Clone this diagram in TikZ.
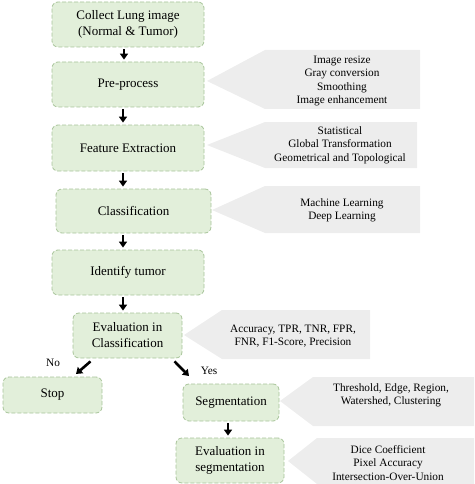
\documentclass[tikz,border=0pt]{standalone}
\usepackage{fontspec}
\setmainfont{Liberation Serif}
\usetikzlibrary{arrows.meta}
\definecolor{boxfill}{HTML}{E2EFDA}
\definecolor{boxdraw}{HTML}{A8C49A}
\definecolor{grayfill}{HTML}{EDEDED}
\tikzset{
  flowbox/.style={draw=boxdraw, fill=boxfill, dashed, dash pattern=on 4pt off 2pt, line width=0.8pt, rounded corners=6pt, align=center, inner sep=0pt, font=\fontsize{13}{16}\selectfont},
  graytext/.style={align=center, inner sep=0pt, font=\fontsize{11.3}{13.3}\selectfont},
  grayshape/.style={fill=grayfill},
  bigarrow/.style={line width=2.6pt, -{Triangle[width=8pt,length=6pt]}, shorten <=2pt, shorten >=2pt},
  lbl/.style={inner sep=0pt, font=\fontsize{11.3}{13}\selectfont}
}
\begin{document}
\begin{tikzpicture}[x=1pt,y=-1pt]
\useasboundingbox (0,0) rectangle (474,484);
% gray pointers
\fill[grayshape] (207,81) -- (265,50) -- (420,50) -- (420,109) -- (265,109) -- cycle;
\fill[grayshape] (207,145) -- (265,122) -- (417,122) -- (417,168) -- (265,168) -- cycle;
\fill[grayshape] (212,210) -- (265,186) -- (420,186) -- (420,233) -- (265,233) -- cycle;
\fill[grayshape] (184,335) -- (222,310) -- (370,310) -- (370,359) -- (222,359) -- cycle;
\fill[grayshape] (280,401) -- (313,377) -- (474,377) -- (474,426) -- (313,426) -- cycle;
\fill[grayshape] (288,461) -- (317,438) -- (474,438) -- (474,484) -- (317,484) -- cycle;
\node[graytext] (t1) at (342,81) {Image resize\\Gray conversion\\Smoothing\\Image enhancement};
\node[graytext] (t2) at (340,145) {Statistical\\Global Transformation\\Geometrical and Topological};
\node[graytext] (t3) at (342,210) {Machine Learning\\Deep Learning};
\node[graytext] (t4) at (293,336) {Accuracy, TPR, TNR, FPR,\\FNR, F1-Score, Precision};
\node[graytext] (t5) at (391,395) {Threshold, Edge, Region,\\Watershed, Clustering};
\node[graytext] (t6) at (388,463) {Dice Coefficient\\Pixel Accuracy\\Intersection-Over-Union};
% flow boxes
\node[flowbox, minimum width=152pt, minimum height=45pt] (collect) at (128,24.5) {Collect Lung image\\(Normal \& Tumor)};
\node[flowbox, minimum width=152pt, minimum height=45pt] (pre) at (128,84.5) {Pre-process};
\node[flowbox, minimum width=152pt, minimum height=46pt] (feat) at (128,148) {Feature Extraction};
\node[flowbox, minimum width=155pt, minimum height=44pt] (cls) at (133.5,211) {Classification};
\node[flowbox, minimum width=152pt, minimum height=45pt] (ident) at (128,272.5) {Identify tumor};
\node[flowbox, minimum width=109pt, minimum height=45pt] (evalc) at (127.5,335.5) {Evaluation in\\Classification};
\node[flowbox, minimum width=99pt, minimum height=36pt] (stop) at (52.5,395) {Stop};
\node[flowbox, minimum width=96pt, minimum height=37pt] (seg) at (231,402.5) {Segmentation};
\node[flowbox, minimum width=108pt, minimum height=45pt] (evals) at (230,460.5) {Evaluation in\\segmentation};
% arrows
\draw[bigarrow] ([xshift=-4pt]collect.south) -- ([xshift=-4pt]pre.north);
\draw[bigarrow] ([xshift=-5pt]pre.south) -- ([xshift=-5pt]feat.north);
\draw[bigarrow] ([xshift=-5pt]feat.south) -- ([xshift=-10.5pt]cls.north);
\draw[bigarrow] ([xshift=-10.5pt]cls.south) -- ([xshift=-5pt]ident.north);
\draw[bigarrow] ([xshift=-5pt]ident.south) -- ([xshift=-4.5pt]evalc.north);
\draw[bigarrow] ([xshift=-3pt]seg.south) -- ([xshift=-2pt]evals.north);
\coordinate (noend) at (76,374);
\coordinate (yesend) at (189,376);
\draw[bigarrow, shorten <=0pt, shorten >=0pt] ([xshift=-37pt,yshift=-3pt]evalc.south) -- (noend);
\draw[bigarrow, shorten <=0pt, shorten >=0pt] ([xshift=47pt,yshift=-3pt]evalc.south) -- (yesend);
\node[lbl] (no) at (53,363) {No};
\node[lbl] (yes) at (209,371) {Yes};
\end{tikzpicture}
\end{document}
